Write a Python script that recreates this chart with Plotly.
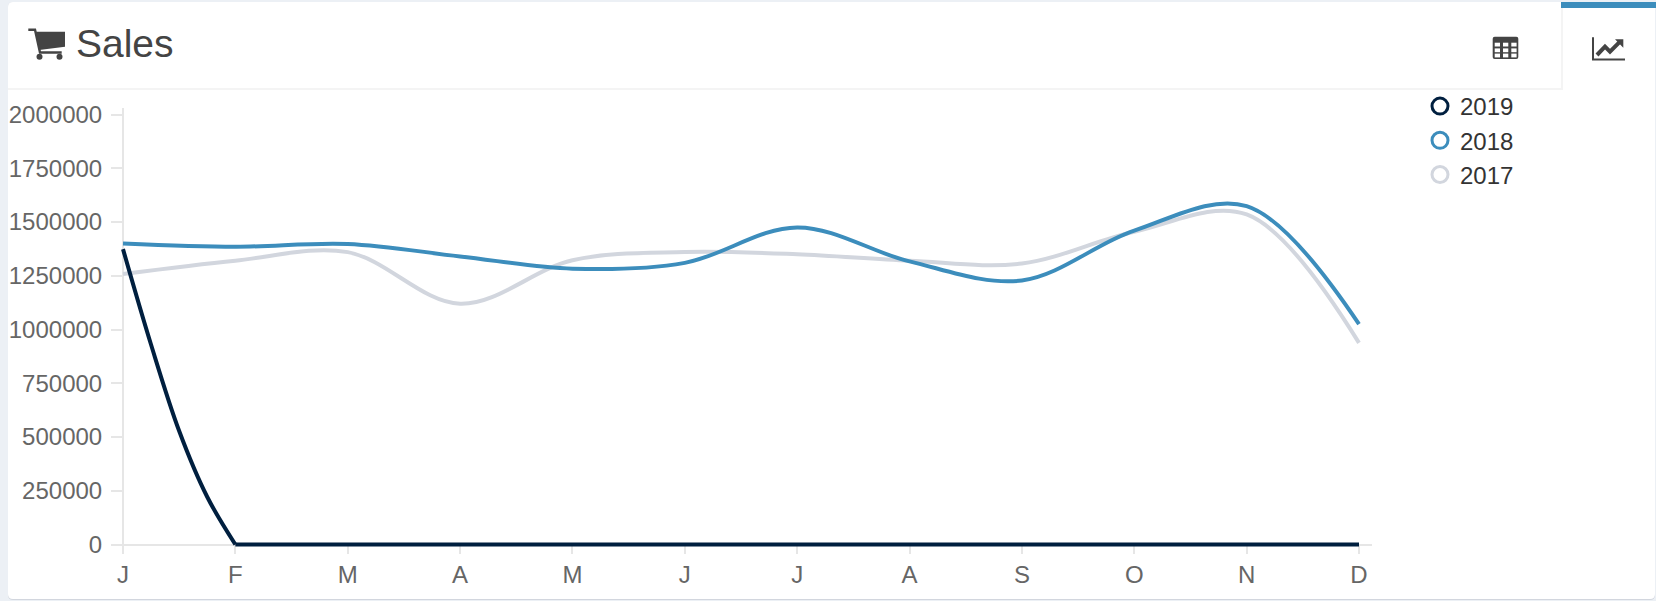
import plotly.graph_objects as go

months = ["J", "F", "M", "A", "M", "J", "J", "A", "S", "O", "N", "D"]
month_pos = list(range(12))
sales_2018 = [1400000, 1385000, 1398000, 1340000, 1283000, 1310000, 1475000, 1317000, 1228000, 1460000, 1574000, 1025000]
sales_2017 = [1258000, 1320000, 1360000, 1120000, 1322000, 1360000, 1350000, 1320000, 1307000, 1455000, 1535000, 938000]
sales_2019 = [1374000, 0, 0, 0, 0, 0, 0, 0, 0, 0, 0, 0]
# January to February drop of 2019, sampled along the curve
drop_pos = [0, 0.25, 0.5, 0.75, 1]
drop_2019 = [1374000, 929000, 528000, 221000, 0]
y_ticks = [0, 250000, 500000, 750000, 1000000, 1250000, 1500000, 1750000, 2000000]

NAVY, BLUE, GREY = "#001f3f", "#3c8dbc", "#d2d6de"
ICON, AXIS, TICKTEXT = "#444444", "#e6e6e6", "#666666"
W, H = 1656, 601
L, R, T, B = 112, 1372, 108, 553
X0, STEP = 123, (1359 - 123) / 11
Y0, PER_PX = 544.5, 2000000 / 430


def px(x):
    return (x - L) / (R - L)


def py(y):
    return (B - y) / (B - T)


def path(points, close=True):
    d = " ".join(("M" if i == 0 else "L") + f"{px(a):.5f},{py(b):.5f}" for i, (a, b) in enumerate(points))
    return d + (" Z" if close else "")


def rect(x0, y0, x1, y1, color):
    return dict(type="rect", xref="paper", yref="paper", x0=px(x0), x1=px(x1), y0=py(y0), y1=py(y1),
                fillcolor=color, line_width=0, layer="below")


def poly(points, color):
    return dict(type="path", xref="paper", yref="paper", path=path(points), fillcolor=color,
                line_width=0, layer="below")


def stroke(points, color, width):
    return dict(type="path", xref="paper", yref="paper", path=path(points, close=False),
                line=dict(color=color, width=width), layer="below")


def dot(x, y, r, color):
    return dict(type="circle", xref="paper", yref="paper", x0=px(x - r), x1=px(x + r), y0=py(y + r), y1=py(y - r),
                fillcolor=color, line_width=0, layer="below")


def rounded(x0, y0, x1, y1, r):
    p = lambda a, b: f"{px(a):.5f},{py(b):.5f}"
    return (f"M{p(x0 + r, y0)} L{p(x1 - r, y0)} Q{p(x1, y0)} {p(x1, y0 + r)} L{p(x1, y1 - r)} "
            f"Q{p(x1, y1)} {p(x1 - r, y1)} L{p(x0 + r, y1)} Q{p(x0, y1)} {p(x0, y1 - r)} "
            f"L{p(x0, y0 + r)} Q{p(x0, y0)} {p(x0 + r, y0)} Z")


shapes = [
    # page and card
    rect(0, 0, W, H, "#ecf0f5"),
    dict(type="path", xref="paper", yref="paper", path=rounded(8, 2, 1655, 600, 5), fillcolor=GREY, line_width=0, layer="below"),
    dict(type="path", xref="paper", yref="paper", path=rounded(8, 2, 1655, 599, 5), fillcolor="#ffffff", line_width=0, layer="below"),
    # header rules and active tab
    rect(8, 88, 1562, 90, "#f4f4f4"),
    rect(1561, 8, 1563, 90, "#f4f4f4"),
    rect(1561, 2, 1656, 8, BLUE),
    # cart icon
    stroke([(28.3, 29.8), (35, 29.8), (40, 52.5), (61.7, 52.5)], ICON, 2.4),
    poly([(36, 31.7), (65, 31.7), (65, 46.7), (39.2, 50)], ICON),
    dot(39.5, 56.8, 3, ICON),
    dot(59.5, 56.8, 3, ICON),
    # table icon
    dict(type="path", xref="paper", yref="paper", path=rounded(1492.7, 36.7, 1518.3, 59, 2), fillcolor=ICON, line_width=0, layer="below"),
    # chart icon
    stroke([(1593, 37.3), (1593, 59.5), (1625, 59.5)], ICON, 2),
    stroke([(1597, 55), (1605, 46.7), (1610, 51.7), (1620, 41.7)], ICON, 4),
    poly([(1615, 39.3), (1623.3, 39.3), (1623.3, 47.7)], ICON),
]
for top in (42.7, 48.4, 53.6):
    for left in (1494.7, 1503, 1511.3):
        shapes.append(rect(left, top, left + 5.3, top + 3.8, "#ffffff"))

fig = go.Figure()
fig.add_trace(go.Scatter(x=month_pos, y=sales_2017, mode="lines", showlegend=False, hoverinfo="skip",
                         line=dict(color=GREY, width=4, shape="spline", smoothing=1)))
fig.add_trace(go.Scatter(x=month_pos, y=sales_2018, mode="lines", showlegend=False, hoverinfo="skip",
                         line=dict(color=BLUE, width=4, shape="spline", smoothing=1)))
fig.add_trace(go.Scatter(x=drop_pos, y=drop_2019, mode="lines", showlegend=False, hoverinfo="skip",
                         line=dict(color=NAVY, width=4, shape="spline", smoothing=1)))
fig.add_trace(go.Scatter(x=month_pos[1:], y=sales_2019[1:], mode="lines", showlegend=False, hoverinfo="skip",
                         cliponaxis=False, line=dict(color=NAVY, width=4)))
# legend entries use open circles, independent of the curves
for name, color in (("2019", NAVY), ("2018", BLUE), ("2017", GREY)):
    fig.add_trace(go.Scatter(x=[None], y=[None], mode="markers", name=name,
                             marker=dict(symbol="circle-open", size=16, color=color, line=dict(color=color, width=3))))

fig.update_layout(
    width=W, height=H, autosize=False,
    margin=dict(l=L, r=W - R, t=T, b=H - B, pad=0),
    paper_bgcolor="#ffffff", plot_bgcolor="rgba(0,0,0,0)",
    font=dict(family="Liberation Sans", size=24, color=TICKTEXT),
    shapes=shapes,
    xaxis=dict(range=[-(X0 - L) / STEP, 11 + (R - 1359) / STEP], tickmode="array", tickvals=month_pos, ticktext=months,
               showgrid=False, zeroline=False, showline=True, linecolor=AXIS, linewidth=2, layer="below traces",
               ticks="outside", ticklen=8, tickwidth=2, tickcolor=AXIS, anchor="free", position=(B - 545) / (B - T),
               automargin=False, fixedrange=True),
    yaxis=dict(range=[-(B - Y0) * PER_PX, (Y0 - T) * PER_PX], tickmode="array", tickvals=y_ticks,
               ticktext=[str(v) for v in y_ticks], ticklabelstandoff=4,
               showgrid=False, zeroline=False, showline=True, linecolor=AXIS, linewidth=2, layer="below traces",
               ticks="outside", ticklen=11, tickwidth=2, tickcolor=AXIS, anchor="free", position=(X0 - L) / (R - L),
               automargin=False, fixedrange=True),
    legend=dict(x=px(1423), xanchor="left", y=py(84), yanchor="top", bgcolor="rgba(0,0,0,0)", indentation=-3,
                font=dict(family="Liberation Sans", size=24, color="#333333"), traceorder="normal"),
    annotations=[dict(text="Sales", xref="paper", yref="paper", x=px(74), y=py(44), xanchor="left", yanchor="middle",
                      showarrow=False, font=dict(family="Liberation Sans", size=39, color=ICON))],
)
fig.write_html("out.html", config=dict(displayModeBar=False))
